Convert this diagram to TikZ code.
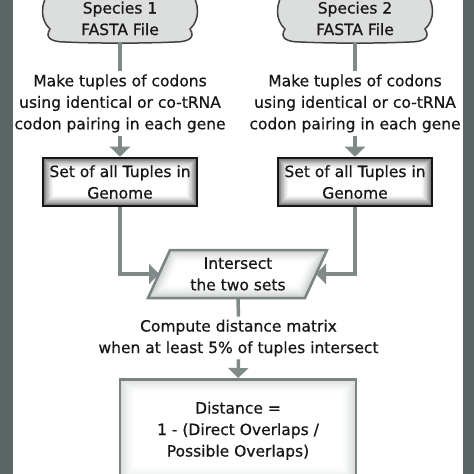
\documentclass[tikz,border=0pt]{standalone}
\usepackage{fontspec}
\setmainfont[RawFeature={embolden=0.6}]{DejaVu Sans}
\usetikzlibrary{arrows.meta}
\definecolor{sidebar}{RGB}{90,101,100}
\definecolor{conncol}{RGB}{127,138,137}
\definecolor{cloudfill}{RGB}{220,222,221}
\definecolor{cloudline}{RGB}{64,64,64}
\definecolor{boxline}{RGB}{22,22,22}
\definecolor{grayline}{RGB}{122,132,131}
\definecolor{txt}{RGB}{22,22,22}
\begin{document}
\begin{tikzpicture}[x=1bp,y=-1bp,
  every node/.style={font=\fontsize{15.5bp}{21.5bp}\selectfont, text=txt, align=center},
  lbl/.style={inner sep=3bp},
  connline/.style={draw=conncol, line width=3.5bp},
  arr/.style={connline, -{Triangle[width=20bp,length=10bp]}},
  cloudsty/.style={draw=cloudline, fill=cloudfill, line width=1.5bp},
  shadowbox/.style n args={3}{path picture={
    \foreach \i in {1,...,16}{
      \pgfmathsetlengthmacro\w{2*#3*(17-\i)/16*1bp}
      \pgfmathsetmacro\c{#2*(\i/16)^1.6}
      \draw[line width=\w, draw=#1!\c!white] (path picture bounding box.south west) rectangle (path picture bounding box.north east);}}},
  tuplebox/.style={rectangle, draw=boxline, line width=2.5bp, fill=white,
    minimum width=154bp, minimum height=48bp, inner sep=0pt, shadowbox={black}{60}{11}},
  distbox/.style={rectangle, draw=grayline, line width=2.5bp, fill=white,
    minimum width=236bp, minimum height=103bp, inner sep=0pt, shadowbox={grayline}{28}{16}},
]
\useasboundingbox (0,0) rectangle (474,474);
\clip (0,0) rectangle (474,474);
% side bars
\fill[sidebar] (0,0) rectangle (13,474);
\fill[sidebar] (463,0) rectangle (474,474);
% clouds
\foreach \cx in {120,355}{
  \draw[cloudsty, shift={(\cx,0)}] (-70,-10) .. controls (-80,4) and (-80,20) .. (-70,29)
    .. controls (-76,38) and (-68,42) .. (-55,42)
    .. controls (-20,43.5) and (20,43.5) .. (55,42)
    .. controls (68,42) and (76,38) .. (70,29)
    .. controls (80,20) and (80,4) .. (70,-10) -- cycle;
}
\node (sp1) at (120,18.5) {Species 1\\FASTA File};
\node (sp2) at (355,18.5) {Species 2\\FASTA File};
\coordinate (c1b) at (120,42);
\coordinate (c2b) at (355,42);
% text steps
\node[lbl] (mk1) at (120,103.5) {Make tuples of codons\\using identical or co-tRNA\\codon pairing in each gene};
\node[lbl] (mk2) at (355,103.5) {Make tuples of codons\\using identical or co-tRNA\\codon pairing in each gene};
% tuple boxes
\node[tuplebox] (box1) at (120,182) {Set of all Tuples in\\Genome};
\node[tuplebox] (box2) at (355,182) {Set of all Tuples in\\Genome};
% intersect parallelogram
\coordinate (pbl) at (148,298);
\coordinate (ptl) at (170,250);
\coordinate (ptr) at (327,250);
\coordinate (pbr) at (305,298);
\coordinate (pL) at (159,274);
\coordinate (pR) at (316,274);
\coordinate (pB) at (238,299);
\fill[white] (pbl) -- (ptl) -- (ptr) -- (pbr) -- cycle;
\begin{scope}
  \clip (pbl) -- (ptl) -- (ptr) -- (pbr) -- cycle;
  \foreach \i in {1,...,16}{
    \pgfmathsetlengthmacro\w{2*13*(17-\i)/16*1bp}
    \pgfmathsetmacro\c{42*(\i/16)^1.6}
    \draw[line width=\w, draw=grayline!\c!white, line join=miter] (pbl) -- (ptl) -- (ptr) -- (pbr) -- cycle;}
\end{scope}
\draw[draw=grayline, line width=2.5bp, line join=miter] (pbl) -- (ptl) -- (ptr) -- (pbr) -- cycle;
\node (isect) at (238,274) {Intersect\\the two sets};
% compute
\node[lbl] (cmp) at (238.5,338) {Compute distance matrix\\when at least 5\% of tuples intersect};
% distance box
\node[distbox, anchor=north] (dist) at (238,378) {Distance =\\1 - (Direct Overlaps /\\Possible Overlaps)};
% connectors
\draw[connline] (c1b) -- (mk1.north);
\draw[connline] (c2b) -- (mk2.north);
\draw[arr] (mk1.south) -- (box1.north);
\draw[arr] (mk2.south) -- (box2.north);
\draw[arr, line join=miter] (box1.south) |- (pL);
\draw[arr, line join=miter] (box2.south) |- (pR);
\draw[connline] (pB) -- (cmp.north);
\draw[arr] (cmp.south) -- (dist.north);
\end{tikzpicture}
\end{document}
